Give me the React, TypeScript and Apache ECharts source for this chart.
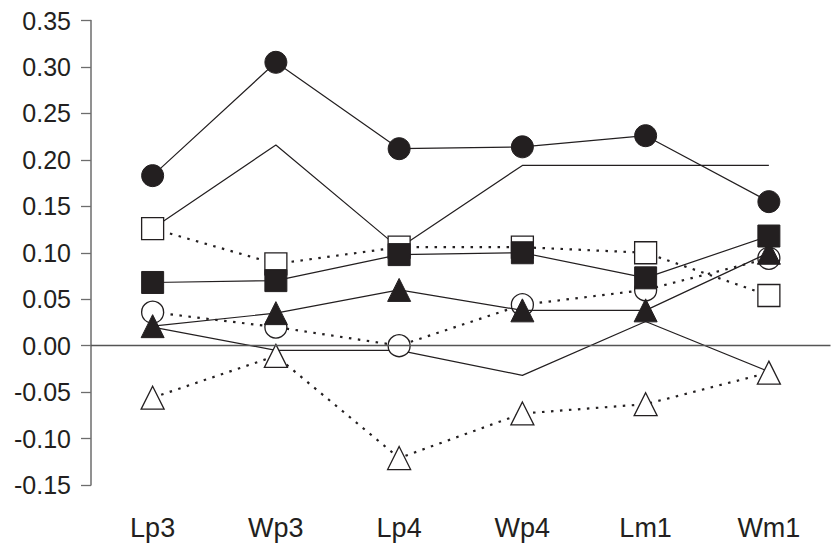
import React, { useEffect, useRef } from "react";
import * as echarts from "echarts";

const categories = ["Lp3", "Wp3", "Lp4", "Wp4", "Lm1", "Wm1"];
const yTicks = { min: -0.15, max: 0.35, step: 0.05 };

const filledCircles = [0.183, 0.305, 0.212, 0.214, 0.226, 0.155];
const openSquares = [0.126, 0.088, 0.106, 0.106, 0.1, 0.054];
const filledSquares = [0.068, 0.07, 0.098, 0.1, 0.073, 0.118];
const openCircles = [0.036, 0.02, 0.0, 0.044, 0.06, 0.094];
const filledTriangles = [0.021, 0.035, 0.06, 0.038, 0.038, 0.1];
const openTriangles = [-0.056, -0.011, -0.121, -0.073, -0.063, -0.029];
const upperLine = [0.126, 0.216, 0.105, 0.194, 0.194, 0.194];
const lowerLine = [0.02, -0.005, -0.005, -0.032, 0.026, -0.028];

const INK = "#231f20";
const AXIS = "#6d6d6d";
const FONT = "'Liberation Sans', Arial, Helvetica, sans-serif";

const dotted = { color: INK, width: 2.2, type: [2.5, 6.5] as number[] };
const solid = { color: INK, width: 1.2, type: "solid" as const };

function markerSeries(
  name: string,
  data: number[],
  symbol: string,
  size: number | number[],
  filled: boolean,
  line: any,
  z: number
) {
  return {
    name,
    type: "line",
    data,
    symbol,
    symbolSize: size,
    showSymbol: true,
    z,
    lineStyle: line,
    itemStyle: filled
      ? { color: INK, borderColor: INK, borderWidth: 1 }
      : { color: "#ffffff", borderColor: INK, borderWidth: 1.3 },
    emphasis: { disabled: true },
  };
}

export default function App() {
  const ref = useRef<HTMLDivElement>(null);

  useEffect(() => {
    if (!ref.current) return;
    const chart = echarts.init(ref.current, undefined, { renderer: "svg" });
    chart.setOption({
      animation: false,
      backgroundColor: "#ffffff",
      grid: { left: 91, right: 7.5, top: 20.5, bottom: 72, containLabel: false },
      xAxis: {
        type: "category",
        data: categories,
        boundaryGap: true,
        axisLine: { show: false, onZero: false },
        axisTick: { show: false },
        splitLine: { show: false },
        axisLabel: {
          margin: 29,
          fontSize: 27,
          fontFamily: FONT,
          color: INK,
        },
      },
      yAxis: {
        type: "value",
        min: yTicks.min,
        max: yTicks.max,
        interval: yTicks.step,
        axisLine: { show: true, lineStyle: { color: AXIS, width: 1.5 } },
        axisTick: { show: true, length: 10, lineStyle: { color: AXIS, width: 1.3 } },
        splitLine: { show: false },
        axisLabel: {
          margin: 20,
          fontSize: 25,
          fontFamily: FONT,
          color: INK,
          formatter: (v: number) => (Math.abs(v) < 1e-9 ? 0 : v).toFixed(2),
        },
      },
      series: [
        {
          ...markerSeries("upper", upperLine, "none", 0, true, solid, 2),
          markLine: {
            silent: true,
            symbol: "none",
            label: { show: false },
            lineStyle: { type: "solid", color: "#555555", width: 1.3 },
            data: [{ yAxis: 0 }],
          },
        },
        markerSeries("lower", lowerLine, "none", 0, true, solid, 2),
        markerSeries("openCircles", openCircles, "circle", 22, false, dotted, 3),
        markerSeries("openSquares", openSquares, "rect", 22, false, dotted, 3),
        markerSeries("openTriangles", openTriangles, "triangle", [23, 23], false, dotted, 3),
        markerSeries("filledTriangles", filledTriangles, "triangle", [23, 23], true, solid, 4),
        markerSeries("filledSquares", filledSquares, "rect", 22, true, solid, 5),
        markerSeries("filledCircles", filledCircles, "circle", 22, true, solid, 6),
      ],
    });
    return () => chart.dispose();
  }, []);

  return <div ref={ref} style={{ width: 838, height: 557, position: "absolute", left: 0, top: 0 }} />;
}
